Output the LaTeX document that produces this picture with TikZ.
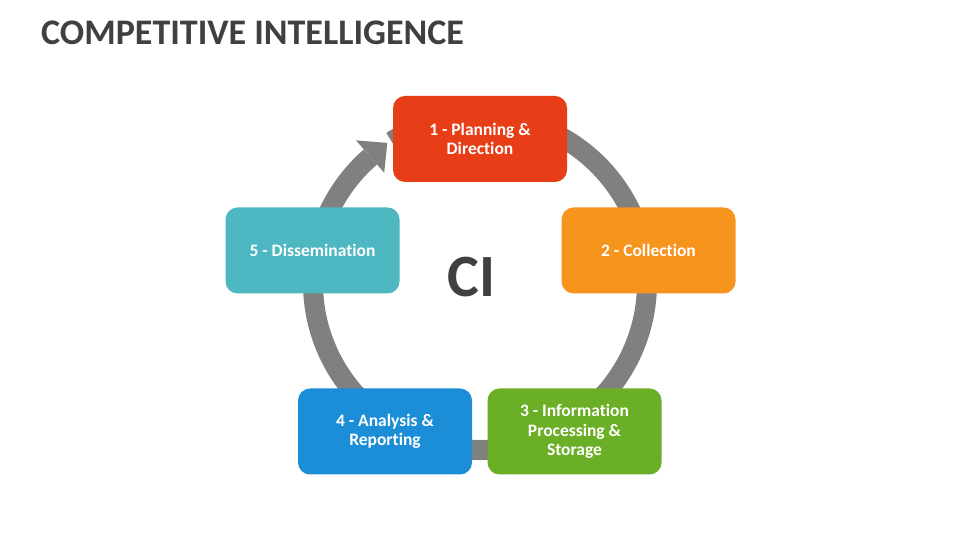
\documentclass[tikz,border=0pt]{standalone}
\usepackage{fontspec}
\setmainfont{Carlito}[Ligatures=NoCommon]
\definecolor{cired}{HTML}{E83E17}
\definecolor{ciorange}{HTML}{F7941D}
\definecolor{cigreen}{HTML}{6BAF26}
\definecolor{ciblue}{HTML}{1C8ED8}
\definecolor{citeal}{HTML}{4DB8C2}
\definecolor{ringgrey}{HTML}{808080}
\definecolor{darktext}{HTML}{404040}
\begin{document}
\begin{tikzpicture}[x=1pt,y=1pt]
\tikzset{
  stage/.style={rounded corners=12pt, minimum width=174pt, minimum height=86pt,
    inner sep=0pt, align=center, text=white,
    font=\bfseries\fontsize{17.5}{19.5}\selectfont},
  ring/.style={draw=ringgrey, line width=20pt},
  headfill/.style={fill=ringgrey, draw=none}
}
\useasboundingbox (0,0) rectangle (960,540);
\fill[white] (0,0) rectangle (960,540);
\coordinate (c) at (480,257);
% ring
\draw[ring] ([shift={(122:167)}]c) arc[start angle=122, end angle=-229, radius=167];
% arrow head
\coordinate (h1) at ([shift={(131:189)}]c);
\coordinate (h2) at ([shift={(123.5:168)}]c);
\coordinate (h3) at ([shift={(131:146)}]c);
\fill[headfill] (h1) -- (h2) -- (h3) -- cycle;
% stages
\node[stage, fill=cired] (s1) at (480,401) {1 - Planning \&\\Direction};
\node[stage, fill=ciorange] (s2) at (648.5,289.5) {2 - Collection};
\node[stage, fill=cigreen] (s3) at (574.5,108.5) {3 - Information\\Processing \&\\Storage};
\node[stage, fill=ciblue] (s4) at (385,108.5) {4 - Analysis \&\\Reporting};
\node[stage, fill=citeal] (s5) at (312.5,289.5) {5 - Dissemination};
% centre label
\node[anchor=base, inner sep=0pt, text=darktext, font=\bfseries\fontsize{60}{72}\selectfont] (ci) at (471.5,243) {CI};
% title
\node[anchor=base west, inner sep=0pt, text=darktext, font=\bfseries\fontsize{36}{42}\selectfont] (title) at (41,495) {COMPETITIVE INTELLIGENCE};
\end{tikzpicture}
\end{document}
